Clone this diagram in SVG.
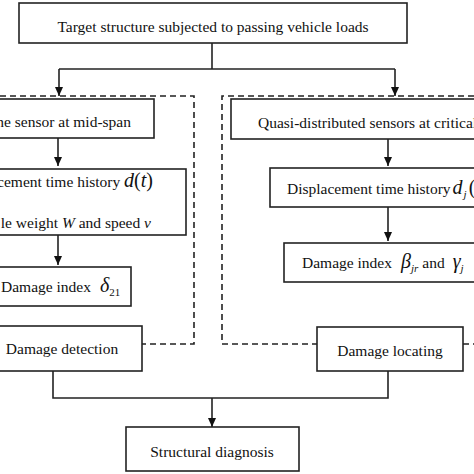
<svg xmlns="http://www.w3.org/2000/svg" width="474" height="474" viewBox="0 0 474 474">
<defs>
<marker id="ah" markerWidth="10" markerHeight="10" refX="9" refY="5" orient="auto" markerUnits="userSpaceOnUse">
<path d="M0,1 L9,5 L0,9 Z" fill="#111"/>
</marker>
<style>
.box{fill:#fff;stroke:#222;stroke-width:1.6}
.t{font-family:"Liberation Serif","Times New Roman",serif;font-size:15.5px;fill:#111}
.m{font-style:italic;font-size:20px}
.s{font-size:11px}
.si{font-size:11px;font-style:italic}
.ln{fill:none;stroke:#222;stroke-width:1.6}
.dash{fill:none;stroke:#222;stroke-width:1.6;stroke-dasharray:6,4}
</style>
</defs>
<rect width="474" height="474" fill="#fff"/>
<g id="connectors">
<path class="dash" d="M0,96 H194 V344 H142"/>
<path class="dash" d="M474,96 H222 V344 H317"/>
<path class="dash" d="M463,344 H474"/>
<path class="ln" d="M212,43 V69"/>
<path class="ln" d="M59,69 H395"/>
<path class="ln" d="M59,69 V96" marker-end="url(#ah)"/>
<path class="ln" d="M395,69 V96" marker-end="url(#ah)"/>
<path class="ln" d="M58,138 V166" marker-end="url(#ah)"/>
<path class="ln" d="M58,235 V265" marker-end="url(#ah)"/>
<path class="ln" d="M388,139 V166" marker-end="url(#ah)"/>
<path class="ln" d="M388,207 V241" marker-end="url(#ah)"/>
<path class="ln" d="M53,371 V398 H388 V371"/>
<path class="ln" d="M212,398 V427" marker-end="url(#ah)"/>
</g>
<g id="n-target">
<rect class="box" x="19" y="3" width="388" height="40"/>
<text class="t" x="213" y="32" text-anchor="middle">Target structure subjected to passing vehicle loads</text>
</g>
<g id="n-onesensor">
<rect class="box" x="-20" y="99" width="174" height="39"/>
<text class="t" x="131" y="127" text-anchor="end">ne sensor at mid-span</text>
</g>
<g id="n-disp-left">
<rect class="box" x="-20" y="169" width="206" height="66"/>
<text class="t" x="153" y="187" text-anchor="end">cement time history <tspan class="m">d</tspan><tspan font-size="20">(</tspan><tspan class="m">t</tspan><tspan font-size="20">)</tspan></text>
<text class="t" x="151" y="228" text-anchor="end">le weight <tspan font-style="italic">W</tspan> and speed <tspan font-style="italic">v</tspan></text>
</g>
<g id="n-index-left">
<rect class="box" x="-20" y="267" width="151" height="39"/>
<text class="t" x="1" y="292">Damage index<tspan class="m" dx="9">δ</tspan><tspan class="s" dy="4">21</tspan></text>
</g>
<g id="n-detection">
<rect class="box" x="-20" y="326" width="162" height="45"/>
<text class="t" x="62" y="354" text-anchor="middle">Damage detection</text>
</g>
<g id="n-quasi">
<rect class="box" x="231" y="99" width="260" height="40"/>
<text class="t" x="258" y="128">Quasi-distributed sensors at critical</text>
</g>
<g id="n-disp-right">
<rect class="box" x="270" y="168" width="220" height="39"/>
<text class="t" x="287" y="194">Displacement time history<tspan class="m" dx="2">d</tspan><tspan class="si" dy="4" dx="1">j</tspan><tspan font-size="20" dy="-4" dx="2">(</tspan></text>
</g>
<g id="n-index-right">
<rect class="box" x="284" y="243" width="210" height="39"/>
<text class="t" x="302" y="268">Damage index<tspan class="m" dx="9">β</tspan><tspan class="si" dy="4">jr</tspan><tspan dy="-4" dx="4">and</tspan><tspan class="m" dx="8">γ</tspan><tspan class="si" dy="4">j</tspan></text>
</g>
<g id="n-locating">
<rect class="box" x="317" y="327" width="146" height="44"/>
<text class="t" x="390" y="356" text-anchor="middle">Damage locating</text>
</g>
<g id="n-diagnosis">
<rect class="box" x="126" y="427" width="173" height="44"/>
<text class="t" x="212" y="457" text-anchor="middle">Structural diagnosis</text>
</g>
</svg>
